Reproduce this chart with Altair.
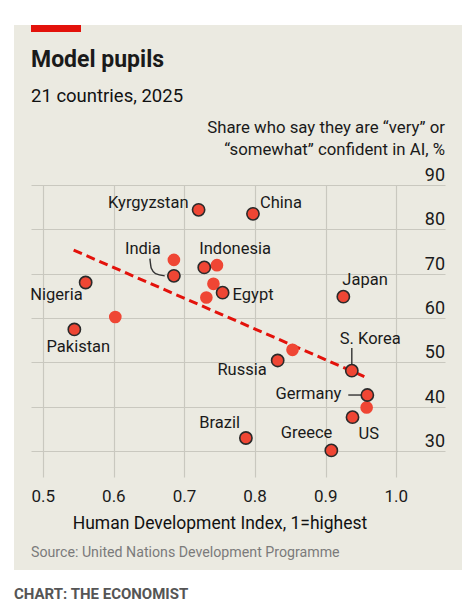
import altair as alt
import pandas as pd

# Survey results by country: HDI score vs share confident in AI (%)
countries = ["Kyrgyzstan", "China", "India", "", "Indonesia", "", "", "Egypt", "",
             "Japan", "Nigeria", "", "Pakistan", "", "Russia", "S. Korea", "Germany",
             "", "US", "Brazil", "Greece"]
hdi = [0.720, 0.797, 0.685, 0.685, 0.728, 0.746, 0.741, 0.754, 0.731,
       0.925, 0.560, 0.602, 0.544, 0.853, 0.832, 0.937, 0.959,
       0.958, 0.938, 0.787, 0.908]
confident = [84.4, 83.5, 69.5, 73.1, 71.4, 71.9, 67.7, 65.7, 64.6,
             64.8, 68.0, 60.2, 57.4, 52.8, 50.4, 48.1, 42.6,
             39.8, 37.6, 32.9, 30.1]

# Linear trend end points
trend_x = [0.543, 0.960]
trend_y = [75.3, 46.4]

x_ticks = [0.5, 0.6, 0.7, 0.8, 0.9, 1.0]
x_tick_labels = ["0.5", "0.6", "0.7", "0.8", "0.9", "1.0"]
y_ticks = [30, 40, 50, 60, 70, 80, 90]

# Label placement: (country, align, dx, dy)
label_spots = [
    ("Kyrgyzstan", "right", -10, -7),
    ("China", "left", 7, -11),
    ("India", "center", -31, -27),
    ("Indonesia", "left", -5, -18),
    ("Egypt", "left", 10, 2),
    ("Japan", "left", -1, -17),
    ("Nigeria", "right", -3, 13),
    ("Pakistan", "center", 4, 18),
    ("S. Korea", "left", -12, -32),
    ("Russia", "right", -11, 10),
    ("Germany", "right", -26, -1),
    ("US", "left", 6, 17),
    ("Brazil", "right", -6, -15),
    ("Greece", "right", 1, -17),
]

# Leader lines (data units)
leaders = {
    "India": ([0.651, 0.653, 0.659, 0.672], [73.4, 71.2, 70.0, 69.5]),
    "S. Korea": ([0.937, 0.937], [53.2, 49.3]),
    "Germany": ([0.932, 0.950], [42.6, 42.6]),
}

FONT = "Roboto"
RED = "#ef4634"
INK = "#1a1a1a"
BEIGE = "#ebeae1"
GRID = "#c9c8bf"

W, H = 414, 292
df = pd.DataFrame({"country": countries, "hdi": hdi, "conf": confident})
df["labelled"] = df["country"] != ""

xs = alt.Scale(domain=[0.4826, 1.069], nice=False, zero=False)
ys = alt.Scale(domain=[24.1, 90], nice=False, zero=False)

base = alt.Chart(df)
X = alt.X("hdi:Q", scale=xs,
          axis=alt.Axis(values=x_ticks, grid=True, labels=False, ticks=False,
                        domain=False, title=None, gridColor=GRID, gridWidth=1.2))
Y = alt.Y("conf:Q", scale=ys,
          axis=alt.Axis(values=y_ticks, grid=True, labels=False, ticks=False,
                        domain=False, title=None, gridColor=GRID, gridWidth=1.2))

one = alt.InlineData(values=[{"k": 0}])


def strip(x1, x2, y1, y2, color):
    return alt.Chart(one).mark_rect(color=color).encode(
        x=alt.value(x1), x2=alt.value(x2), y=alt.value(y1), y2=alt.value(y2))


def note(text, x, y, size, weight="normal", color=INK, align="left"):
    return alt.Chart(alt.InlineData(values=[{"t": text}])).mark_text(
        font=FONT, fontSize=size, fontWeight=weight, color=color,
        align=align, baseline="alphabetic").encode(
        text="t:N", x=alt.value(x), y=alt.value(y))


layers = []

# grid carrier (invisible points)
layers.append(base.mark_point(opacity=0).encode(x=X, y=Y))

# white margins around the beige panel, plus the red tab
layers += [
    strip(-31, -17, -185, 431, "white"),
    strip(431, 445, -185, 431, "white"),
    strip(-31, 445, -185, -160, "white"),
    strip(-31, 445, 385, 431, "white"),
    strip(0, 50, -160, -153, "#e3120b"),
]

# y tick labels sit above their gridlines, right-aligned
ytl = pd.DataFrame({"v": y_ticks, "t": [str(v) for v in y_ticks]})
layers.append(alt.Chart(ytl).mark_text(
    font=FONT, fontSize=18, color=INK, align="right", baseline="alphabetic", dy=-4
).encode(x=alt.value(W), y=alt.Y("v:Q", scale=ys), text="t:N"))

# x tick labels
xtl = pd.DataFrame({"v": x_ticks, "t": x_tick_labels})
layers.append(alt.Chart(xtl).mark_text(
    font=FONT, fontSize=17, color=INK, align="center", baseline="alphabetic"
).encode(x=alt.X("v:Q", scale=xs), y=alt.value(317), text="t:N"))

# trend line
tdf = pd.DataFrame({"hdi": trend_x, "conf": trend_y})
layers.append(alt.Chart(tdf).mark_line(
    color="#e3120b", strokeWidth=3, strokeDash=[9, 5]
).encode(x=alt.X("hdi:Q", scale=xs), y=alt.Y("conf:Q", scale=ys)))

# leader lines
for name, (lx, ly) in leaders.items():
    ldf = pd.DataFrame({"hdi": lx, "conf": ly, "o": range(len(lx))})
    layers.append(alt.Chart(ldf).mark_line(
        color="#333333", strokeWidth=1.4, interpolate="monotone"
    ).encode(x=alt.X("hdi:Q", scale=xs), y=alt.Y("conf:Q", scale=ys), order="o:O"))

# dots: unlabelled without outline, labelled with dark outline
layers.append(base.transform_filter("!datum.labelled").mark_circle(
    size=160, color=RED, opacity=1
).encode(x=alt.X("hdi:Q", scale=xs), y=alt.Y("conf:Q", scale=ys)))
layers.append(base.transform_filter("datum.labelled").mark_point(
    shape="circle", size=150, filled=True, fill=RED, stroke="#2a2a2a",
    strokeWidth=1.6, opacity=1
).encode(x=alt.X("hdi:Q", scale=xs), y=alt.Y("conf:Q", scale=ys)))

# country labels
for name, align, dx, dy in label_spots:
    layers.append(base.transform_filter(alt.datum.country == name).mark_text(
        font=FONT, fontSize=16.5, color=INK, align=align, baseline="middle",
        dx=dx, dy=dy
    ).encode(x=alt.X("hdi:Q", scale=xs), y=alt.Y("conf:Q", scale=ys), text="country:N"))

# titles and notes
layers += [
    note("Model pupils", 0, -118, 23, weight="bold"),
    note("21 countries, 2025", 0, -83, 18.5, color="#111111"),
    note("Share who say they are \u201cvery\u201d or", W, -52, 16.8, align="right"),
    note("\u201csomewhat\u201d confident in AI, %", W, -30, 16.8, align="right"),
    note("Human Development Index, 1=highest", 189, 344, 17.5, color="#111111", align="center"),
    note("Source: United Nations Development Programme", 0, 372, 14.2, color="#7b7b7b"),
    note("CHART: THE ECONOMIST", -17, 414, 15, weight="bold", color="#555555"),
]

chart = alt.layer(*layers).properties(
    width=W, height=H,
    autosize=alt.AutoSizeParams(type="none"),
    padding={"left": 31, "top": 185, "right": 31, "bottom": 139},
    background=BEIGE,
).configure_view(stroke=None)

chart.save("out.html", embed_options={"renderer": "svg", "actions": False})
